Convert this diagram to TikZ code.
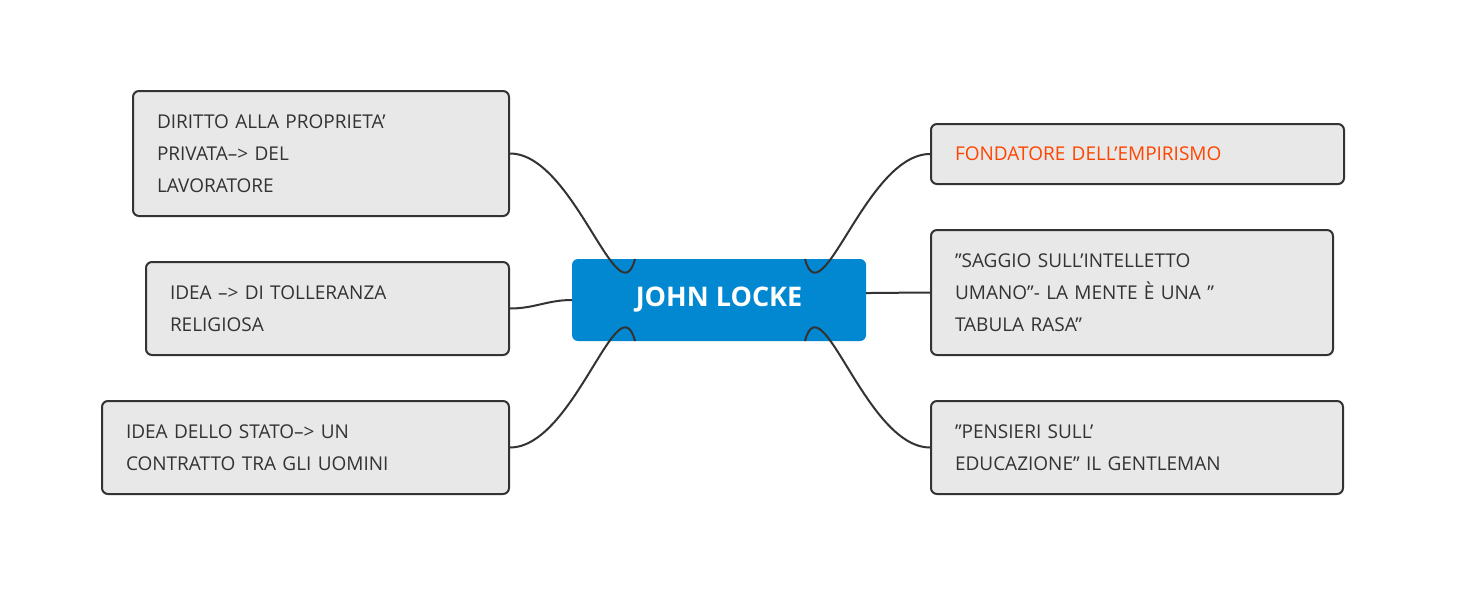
\documentclass[tikz,border=0pt]{standalone}
\usepackage{fontspec}
\setmainfont{Open Sans}
\definecolor{boxfill}{HTML}{E8E8E8}
\definecolor{boxline}{HTML}{333333}
\definecolor{cblue}{HTML}{0288D1}
\definecolor{corange}{HTML}{FF4500}
\begin{document}
\begin{tikzpicture}[x=1pt,y=-1pt,
  topic/.style={draw=boxline,line width=2pt,fill=boxfill,rounded corners=6pt,inner xsep=24pt,align=left,
    font=\fontsize{19}{32}\selectfont,text=boxline,anchor=center},
  link/.style={draw=boxline,line width=2pt}]
\useasboundingbox (0,0) rectangle (1472,606);
\node[draw=none,fill=cblue,rounded corners=6pt,minimum width=294pt,minimum height=82pt,text=white,font=\fontsize{27}{32}\selectfont\bfseries] (c) at (719,300) {JOHN LOCKE};
\node[topic,minimum width=376pt,minimum height=125pt,text width=328pt] (l1) at (321,153.5) {DIRITTO ALLA PROPRIETA'\\PRIVATA--> DEL\\LAVORATORE};
\node[topic,minimum width=363pt,minimum height=93pt,text width=315pt] (l2) at (327.5,308.5) {IDEA --> DI TOLLERANZA\\RELIGIOSA};
\node[topic,minimum width=407pt,minimum height=93pt,text width=359pt] (l3) at (305.5,447.5) {IDEA DELLO STATO--> UN\\CONTRATTO TRA GLI UOMINI};
\node[topic,minimum width=413pt,minimum height=60pt,text width=365pt,text=corange] (r1) at (1137.5,154) {FONDATORE DELL'EMPIRISMO};
\node[topic,minimum width=402pt,minimum height=125pt,text width=354pt] (r2) at (1132,292.5) {"SAGGIO SULL'INTELLETTO\\UMANO"- LA MENTE È UNA "\\TABULA RASA"};
\node[topic,minimum width=412pt,minimum height=93pt,text width=364pt] (r3) at (1137,447.5) {"PENSIERI SULL'\\EDUCAZIONE" IL GENTLEMAN};
\coordinate (ctl) at (635,259);
\coordinate (cbl) at (635,341);
\coordinate (ctr) at (805,259);
\coordinate (cbr) at (805,341);
\draw[link] (ctl) to[out=-105,in=0] (l1.east);
\draw[link] (c.west) to[out=180,in=0] (l2.east);
\draw[link] (cbl) to[out=105,in=0] (l3.east);
\draw[link] (ctr) to[out=-75,in=180] (r1.west);
\draw[link] (c.east) ++(0,-7) to[out=0,in=180] (r2.west);
\draw[link] (cbr) to[out=75,in=180] (r3.west);
\end{tikzpicture}
\end{document}
